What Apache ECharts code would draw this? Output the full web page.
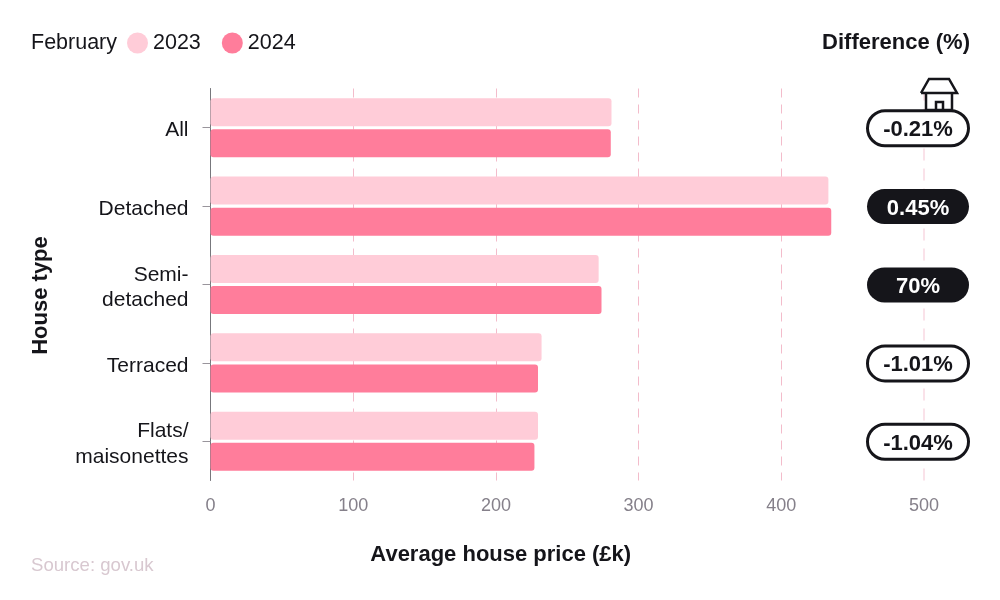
<!DOCTYPE html>
<html>
<head>
<meta charset="utf-8">
<script src="https://cdn.jsdelivr.net/npm/echarts@6/dist/echarts.min.js"></script>
<style>html,body{margin:0;padding:0;background:#fff}#chart{width:1000px;height:600px}</style>
</head>
<body>
<div id="chart"></div>
<script>
// Average UK house prices by type, February 2023 vs February 2024 (£k)
const categories = ['All', 'Detached', 'Semi-\ndetached', 'Terraced', 'Flats/\nmaisonettes'];
const prices2023 = [281, 433, 272, 232, 229.5];
const prices2024 = [280.5, 435, 274, 229.5, 227];
const differenceLabels = ['-0.21%', '0.45%', '70%', '-1.01%', '-1.04%'];
const differenceRise = [false, true, true, false, false];
const ink = '#15151a';
const font = '"Liberation Sans", Arial, sans-serif';

const chart = echarts.init(document.getElementById('chart'), null, { renderer: 'canvas' });

// Difference pills sit in a column at the right of the plot, on each category row
function renderPill(params, api) {
  const centre = api.coord([api.value(0), api.value(1)]);
  const i = api.value(2);
  const rise = differenceRise[i];
  const w = rise ? 102 : 101, h = 35;
  const x = centre[0] - 6 - w / 2, y = centre[1] - h / 2 + 0.5;
  return {
    type: 'group',
    children: [
      {
        type: 'rect',
        shape: { x, y, width: w, height: h, r: h / 2 },
        style: { fill: rise ? ink : '#fff', stroke: rise ? null : ink, lineWidth: 3 }
      },
      {
        type: 'text',
        style: {
          x: x + w / 2, y: y + h / 2 + 2, text: differenceLabels[i],
          fill: rise ? '#fff' : ink, font: 'bold 22px ' + font,
          align: 'center', verticalAlign: 'middle'
        }
      }
    ]
  };
}

chart.setOption({
  animation: false,
  backgroundColor: '#fff',
  textStyle: { fontFamily: font },
  // The second grid only carries the category labels, which sit just below their ticks
  grid: [
    { left: 210.5, top: 88.5, width: 713.5, height: 392, containLabel: false },
    { left: 210.5, top: 91.5, width: 713.5, height: 392, containLabel: false }
  ],
  legend: {
    left: 127, top: 32, padding: 0, itemWidth: 21, itemHeight: 21, itemGap: 21, icon: 'circle',
    textStyle: { fontSize: 21.5, color: ink, fontFamily: font },
    data: ['2023', '2024']
  },
  xAxis: [
    {
      type: 'value', min: 0, max: 500, interval: 100,
      name: 'Average house price (£k)', nameLocation: 'middle', nameGap: 63,
      nameTextStyle: { fontSize: 22, fontWeight: 'bold', color: ink, fontFamily: font, padding: [0, 133, 0, 0] },
      axisLine: { show: false }, axisTick: { show: false },
      axisLabel: { fontSize: 18, color: '#85808a', margin: 17, fontFamily: font },
      splitLine: {
        show: true, showMinLine: false, showMaxLine: false,
        lineStyle: { color: '#f3bccb', type: [9, 7], width: 1 }
      }
    },
    { type: 'value', gridIndex: 1, min: 0, max: 500, show: false }
  ],
  yAxis: [
    {
      type: 'category', inverse: true, data: categories,
      name: 'House type', nameLocation: 'middle', nameGap: 159, nameRotate: 90,
      nameTextStyle: { fontSize: 22, fontWeight: 'bold', color: ink, fontFamily: font, padding: [0, 22, 0, 0] },
      axisLine: { show: true, lineStyle: { color: '#77777c', width: 1 } },
      axisTick: { show: true, alignWithLabel: true, length: 8, lineStyle: { color: '#99959c', width: 1 } },
      axisLabel: { show: false }
    },
    {
      type: 'category', gridIndex: 1, inverse: true, data: categories,
      axisLine: { show: false }, axisTick: { show: false },
      axisLabel: { fontSize: 21, color: ink, margin: 22, lineHeight: 25.5, align: 'right', fontFamily: font }
    }
  ],
  series: [
    {
      name: '2023', type: 'bar', data: prices2023, barWidth: 28, barGap: '11%',
      itemStyle: { color: '#ffccd8', borderRadius: 3 }, z: 3,
      // The closing gridline at 500 is paler and wider than the others
      markLine: {
        silent: true, symbol: 'none', label: { show: false }, animation: false,
        lineStyle: { color: '#fae2e9', type: [12, 8], width: 2 },
        data: [{ xAxis: 500 }]
      }
    },
    {
      name: '2024', type: 'bar', data: prices2024, barWidth: 28,
      itemStyle: { color: '#ff7d9b', borderRadius: 3 }, z: 3
    },
    {
      name: 'Difference (%)', type: 'custom', renderItem: renderPill, silent: true, z: 5,
      encode: { x: 0, y: 1 },
      data: categories.map((c, i) => [500, i, i])
    }
  ],
  graphic: [
    {
      type: 'text', left: 31, top: 32,
      style: { text: 'February', fill: ink, font: '21.5px ' + font }
    },
    {
      type: 'text', right: 30, top: 32,
      style: { text: 'Difference (%)', fill: ink, font: 'bold 22px ' + font }
    },
    {
      type: 'text', left: 31, top: 556,
      style: { text: 'Source: gov.uk', fill: '#d8c8d0', font: '18.6px ' + font }
    },
    // House icon resting on the first pill
    { type: 'polyline', z: 6, shape: { points: [[926, 93], [926, 110], [952, 110], [952, 93]] }, style: { fill: '#fff', stroke: ink, lineWidth: 2.5 } },
    { type: 'polyline', z: 6, shape: { points: [[921, 93], [957, 93], [949, 79], [929, 79], [921, 93]] }, style: { fill: '#fff', stroke: ink, lineWidth: 2.5 } },
    { type: 'polyline', z: 6, shape: { points: [[936, 110], [936, 102], [943, 102], [943, 110]] }, style: { fill: 'none', stroke: ink, lineWidth: 2.5 } }
  ]
});
</script>
</body>
</html>
